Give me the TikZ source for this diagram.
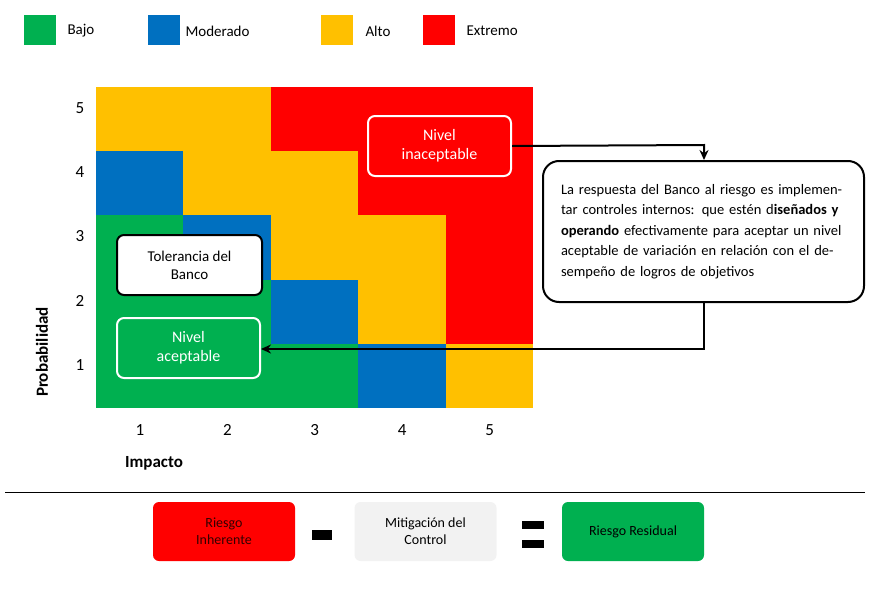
\documentclass[tikz,border=0pt]{standalone}
\usepackage{fontspec}
\setmainfont{Carlito}
\usetikzlibrary{arrows.meta}
\definecolor{gB}{RGB}{0,176,80}
\definecolor{bM}{RGB}{0,112,192}
\definecolor{yA}{RGB}{255,192,0}
\definecolor{rE}{RGB}{255,0,0}
\definecolor{gL}{RGB}{242,242,242}
\tikzset{
 lbl/.style={font=\fontsize{15}{17}\selectfont, anchor=west},
 num/.style={font=\fontsize{17}{19}\selectfont},
 rbox/.style={rounded corners=7pt, line width=2pt, align=center, font=\fontsize{16}{19}\selectfont, minimum width=143pt, minimum height=60pt},
 bbox/.style={rounded corners=6pt, align=center, font=\fontsize{14}{17}\selectfont, minimum width=142pt, minimum height=59pt, draw=none},
 conn/.style={line width=2pt, -{Stealth[length=10pt,width=9pt]}}
}
\begin{document}
\begin{tikzpicture}[x=1pt,y=-1pt]
\useasboundingbox (0,0) rectangle (886,589);
% legend
\fill[gB] (24,15) rectangle (56,45); \node[lbl] (lb) at (64,31) {Bajo};
\fill[bM] (148,15) rectangle (180,45); \node[lbl] (lm) at (182,31) {Moderado};
\fill[yA] (321,15) rectangle (353,45); \node[lbl] (la) at (362,31) {Alto};
\fill[rE] (423,15) rectangle (455,45); \node[lbl] (le) at (463,31) {Extremo};
% grid
\def\X#1{\ifcase#1 96\or183.4\or270.8\or358.2\or445.6\or533\fi}
\foreach \r/\cols in {5/{yA,yA,rE,rE,rE},4/{bM,yA,yA,rE,rE},3/{gB,bM,yA,yA,rE},2/{gB,gB,bM,yA,rE},1/{gB,gB,gB,bM,yA}}{
  \foreach \c [count=\i from 0] in \cols {
    \pgfmathsetmacro\xa{96+87.4*\i}
    \pgfmathsetmacro\ya{87+64.2*(5-\r)}
    \fill[\c] (\xa,\ya) rectangle ++(87.6,64.4);
  }
}
\foreach \r [count=\i from 0] in {5,4,3,2,1}{
  \node[num] (y\r) at (80,108+64.2*\i) {\r};
}
\foreach \c [count=\i from 0] in {1,2,3,4,5}{
  \node[num] (x\c) at (140+87.4*\i,430) {\c};
}
\node[font=\fontsize{17}{19}\selectfont\bfseries] (imp) at (154,463) {Impacto};
\node[font=\fontsize{17}{19}\selectfont\bfseries, rotate=90] (prob) at (42,352) {Probabilidad};
% boxes
\node[rbox, fill=rE, draw=white, text=white] (inac) at (439.5,146) {Nivel\\inaceptable};
\node[rbox, fill=white, draw=black, font=\fontsize{15}{18}\selectfont, minimum width=145pt] (tol) at (189.5,265) {Tolerancia del\\Banco};
\node[rbox, fill=gB, draw=white, text=white] (ac) at (188.5,348) {Nivel\\aceptable};
\node[draw=black, line width=2pt, rounded corners=16pt, fill=white, minimum width=321pt, minimum height=141pt, align=left, text width=285pt, font=\fontsize{14.5}{20.5}\selectfont] (big) at (703.5,231.5) {La respuesta del Banco al riesgo es implementar controles internos: que estén d\textbf{iseñados y operando} efectivamente para aceptar un nivel aceptable de variación en relación con el desempeño de logros de objetivos};
\coordinate (c1) at (704,145);
\coordinate (c2) at (704,349);
\draw[conn] (inac.east) -- (c1) -- (big.north -| c1);
\draw[conn] (big.south -| c2) -- (c2) -- (ac.east |- c2);
% bottom
\draw[line width=0.8pt] (5,492) -- (865,492);
\node[bbox, fill=rE, text=black!80!red] (ri) at (224,531.5) {Riesgo\\Inherente};
\fill (312,530) rectangle (332,540);
\node[bbox, fill=gL] (mc) at (425.5,531.5) {Mitigación del\\Control};
\fill (522,521) rectangle (544,529);
\fill (522,540) rectangle (544,548);
\node[bbox, fill=gB] (rr) at (633,531.5) {Riesgo Residual};
\end{tikzpicture}
\end{document}
